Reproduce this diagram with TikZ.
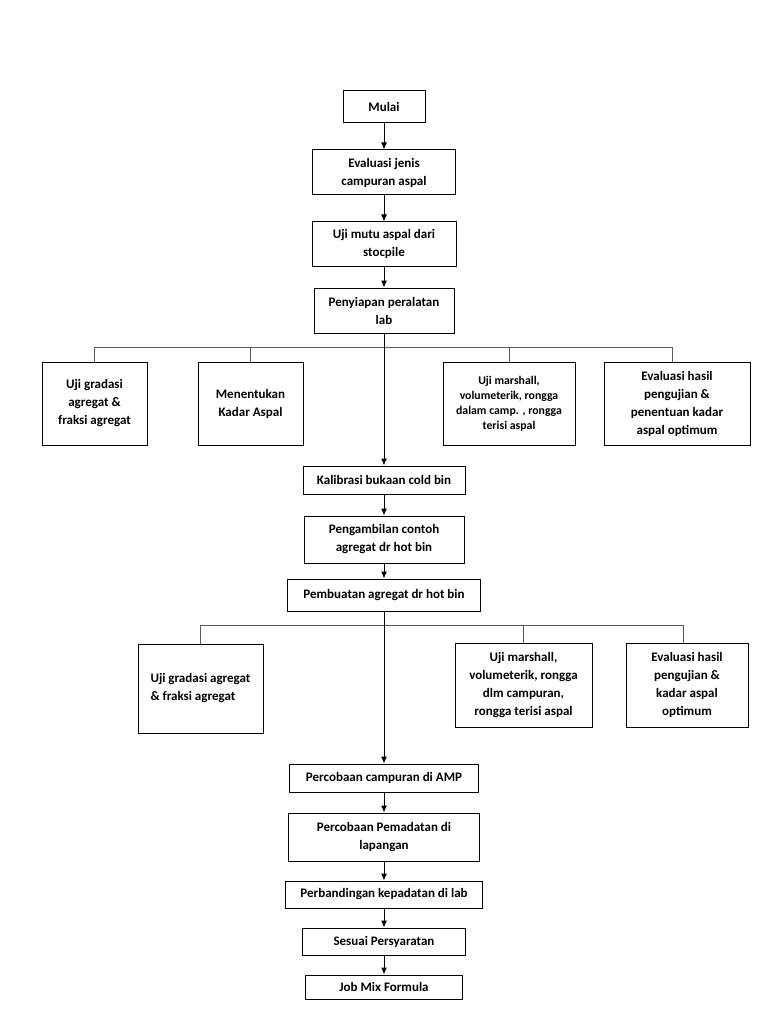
\documentclass[tikz,border=0pt]{standalone}
\usepackage{fontspec}
\setmainfont{Carlito}
\usetikzlibrary{arrows.meta,positioning,calc}

\begin{document}
\begin{tikzpicture}[
    x=1pt, y=-1pt,
    font=\fontsize{13pt}{18pt}\selectfont\bfseries,
    box/.style={draw, line width=1pt, align=center, inner sep=2pt},
    side/.style={box, minimum height=83pt},
    small/.style={font=\fontsize{11.8pt}{15pt}\selectfont\bfseries},
    arr/.style={-{Latex[length=7pt,width=6pt]}, line width=1pt},
    tree/.style={draw=black!65, line width=0.7pt}
  ]
    \useasboundingbox (0,0) rectangle (768,1024);

    % main column
    \node[box, minimum width=82pt, minimum height=32pt] (mulai) at (384,107) {Mulai};
    \node[box, below=26pt of mulai, minimum width=143pt, minimum height=45pt] (evjenis) {Evaluasi jenis\\campuran aspal};
    \node[box, below=26pt of evjenis, minimum width=144pt, minimum height=44pt] (ujimutu) {Uji mutu aspal dari\\stocpile};
    \node[box, below=21pt of ujimutu, minimum width=140pt, minimum height=45pt] (prep) {Penyiapan peralatan\\lab};
    \node[box, below=132pt of prep, minimum width=162pt, minimum height=28pt] (kalib) {Kalibrasi bukaan cold bin};
    \node[box, below=21pt of kalib, minimum width=160pt, minimum height=47pt] (contoh) {Pengambilan contoh\\agregat dr hot bin};
    \node[box, below=15pt of contoh, minimum width=193pt, minimum height=32pt] (buat) {Pembuatan agregat dr hot bin};
    \node[box, below=152pt of buat, minimum width=189pt, minimum height=28pt] (amp) {Percobaan campuran di AMP};
    \node[box, below=20pt of amp, minimum width=191pt, minimum height=48pt] (padat) {Percobaan Pemadatan di\\lapangan};
    \node[box, below=19pt of padat, minimum width=197pt, minimum height=27pt] (banding) {Perbandingan kepadatan di lab};
    \node[box, below=19pt of banding, minimum width=163pt, minimum height=27pt] (sesuai) {Sesuai Persyaratan};
    \node[box, below=19pt of sesuai, minimum width=157pt, minimum height=24pt] (jmf) {Job Mix Formula};

    % first row of side tests
    \coordinate (bus1) at ($(prep.south)+(0,14)$);
    \node[side, minimum width=105pt] (gradasi1) at (94.5,403.5) {Uji gradasi\\agregat \&\\fraksi agregat};
    \node[side, minimum width=105pt] (kadar) at (250.5,403.5) {Menentukan\\Kadar Aspal};
    \node[side, small, minimum width=132pt] (marshall1) at (509,404) {Uji marshall,\\volumeterik, rongga\\dalam camp. , rongga\\terisi aspal};
    \node[side, minimum width=146pt] (hasil1) at (677,404) {Evaluasi hasil\\pengujian \&\\penentuan kadar\\aspal optimum};

    % second row of side tests
    \coordinate (bus2) at ($(buat.south)+(0,14)$);
    \node[box, align=left, minimum width=125pt, minimum height=89pt] (gradasi2) at (200.5,688.5) {Uji gradasi agregat\\\& fraksi agregat};
    \node[box, minimum width=137pt, minimum height=84pt] (marshall2) at (523.5,685) {Uji marshall,\\volumeterik, rongga\\dlm campuran,\\rongga terisi aspal};
    \node[box, minimum width=122pt, minimum height=84pt] (hasil2) at (687,685) {Evaluasi hasil\\pengujian \&\\kadar aspal\\optimum};

    \draw[tree] (gradasi1.north) |- (bus1) -| ([xshift=-5pt]hasil1.north);
    \draw[tree] (kadar.north) -- (kadar.north |- bus1);
    \draw[tree] (marshall1.north) -- (marshall1.north |- bus1);
    \draw[tree] (gradasi2.north) |- (bus2) -| ([xshift=-4pt]hasil2.north);
    \draw[tree] (marshall2.north) -- (marshall2.north |- bus2);

    \draw[arr] (mulai) -- (evjenis);
    \draw[arr] (evjenis) -- (ujimutu);
    \draw[arr] (ujimutu) -- (prep);
    \draw[arr] (prep) -- (kalib);
    \draw[arr] (kalib) -- (contoh);
    \draw[arr] (contoh) -- (buat);
    \draw[arr] (buat) -- (amp);
    \draw[arr] (amp) -- (padat);
    \draw[arr] (padat) -- (banding);
    \draw[arr] (banding) -- (sesuai);
    \draw[arr] (sesuai) -- (jmf);
  \end{tikzpicture}
\end{document}
